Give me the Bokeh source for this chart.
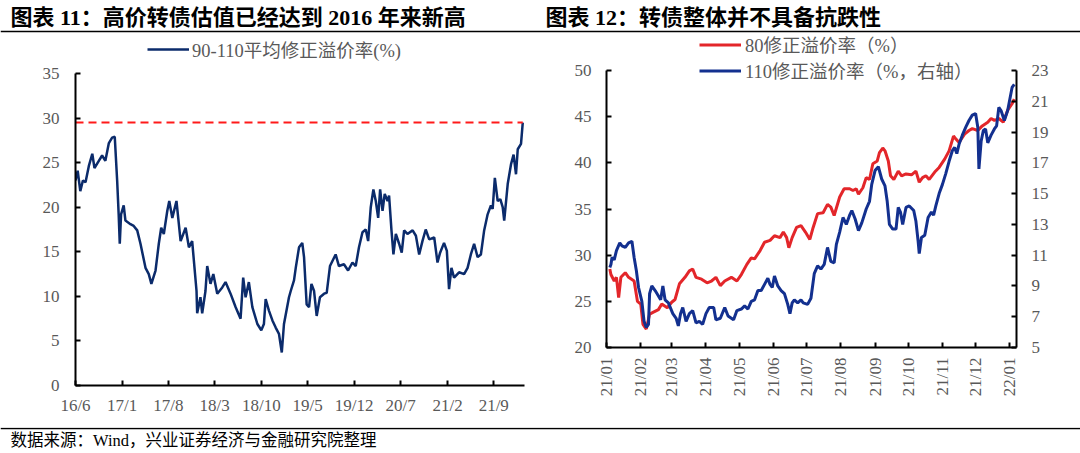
import math
import pandas as pd
from bokeh.plotting import figure
from bokeh.layouts import column, row
from bokeh.models import Range1d, LinearAxis, FixedTicker, Legend, LegendItem, Label, Span
from bokeh.embed import file_html
from bokeh.resources import INLINE

SERIF = "Liberation Serif, Noto Sans CJK SC"
TICK_COLOR = "#595959"
NAVY = "#0b2b6b"
BLUE = "#13308f"
RED = "#e3262a"
DASH_RED = "#ff1a1a"

# ---- 图表 11：90-110 平均修正溢价率 ----
hp_dates = [
    "2016-06-01", "2016-06-11", "2016-06-23", "2016-07-05", "2016-07-17", "2016-08-01",
    "2016-08-17", "2016-08-27", "2016-09-16", "2016-10-01", "2016-10-16", "2016-11-01",
    "2016-11-16", "2016-11-28", "2016-12-09", "2016-12-16", "2016-12-21", "2016-12-27",
    "2017-01-08", "2017-01-16", "2017-02-08", "2017-02-23", "2017-03-11", "2017-03-26",
    "2017-04-18", "2017-05-03", "2017-05-15", "2017-06-03", "2017-06-18", "2017-06-29",
    "2017-07-11", "2017-07-27", "2017-08-05", "2017-08-19", "2017-09-07", "2017-09-26",
    "2017-10-19", "2017-11-03", "2017-11-18", "2017-12-08", "2017-12-11", "2017-12-26",
    "2018-01-03", "2018-01-18", "2018-01-26", "2018-02-10", "2018-02-23", "2018-03-13",
    "2018-04-05", "2018-04-20", "2018-05-13", "2018-06-05", "2018-06-28", "2018-07-10",
    "2018-07-21", "2018-08-05", "2018-08-21", "2018-09-13", "2018-10-01", "2018-10-13",
    "2018-10-21", "2018-11-05", "2018-11-21", "2018-12-06", "2018-12-21", "2019-01-03",
    "2019-01-13", "2019-02-05", "2019-02-13", "2019-02-28", "2019-03-08", "2019-03-23",
    "2019-04-07", "2019-04-15", "2019-04-27", "2019-05-08", "2019-05-19", "2019-05-31",
    "2019-06-12", "2019-06-27", "2019-07-16", "2019-07-28", "2019-08-12", "2019-09-07",
    "2019-09-22", "2019-10-15", "2019-11-03", "2019-11-23", "2019-12-08", "2019-12-23",
    "2020-01-08", "2020-01-23", "2020-02-03", "2020-02-15", "2020-02-27", "2020-03-09",
    "2020-03-20", "2020-03-29", "2020-04-09", "2020-04-19", "2020-05-02", "2020-05-09",
    "2020-05-20", "2020-05-29", "2020-06-09", "2020-06-24", "2020-07-06", "2020-07-17",
    "2020-08-01", "2020-08-25", "2020-09-09", "2020-09-24", "2020-10-09", "2020-10-24",
    "2020-11-09", "2020-12-02", "2020-12-17", "2020-12-29", "2021-01-16", "2021-01-29",
    "2021-02-08", "2021-02-19", "2021-03-03", "2021-03-26", "2021-04-18", "2021-05-04",
    "2021-05-19", "2021-06-03", "2021-06-19", "2021-07-04", "2021-07-19", "2021-08-04",
    "2021-08-19", "2021-08-27", "2021-09-06", "2021-09-19", "2021-10-01", "2021-10-12",
    "2021-10-19", "2021-11-04", "2021-11-19", "2021-12-01", "2021-12-12", "2021-12-20",
    "2022-01-04", "2022-01-12",
]
hp_premium = [
    23.0, 24.1, 21.8, 23.0, 22.8, 24.6,
    26.0, 24.4, 25.2, 25.8, 25.2, 27.2,
    27.8, 27.9, 23.0, 19.2, 15.9, 19.2,
    20.2, 18.5, 18.1, 17.9, 17.4, 15.9,
    13.2, 12.5, 11.4, 12.9, 15.9, 17.7,
    17.0, 19.6, 20.7, 18.8, 20.7, 16.2,
    17.7, 15.5, 16.2, 10.6, 8.1, 9.9,
    8.1, 10.6, 13.4, 11.4, 12.5, 10.3,
    11.0, 11.6, 10.3, 8.8, 7.5, 12.1,
    9.9, 11.6, 8.8, 6.9, 6.2, 6.9,
    9.7, 8.4, 7.3, 6.5, 5.8, 3.7,
    6.9, 9.9, 10.6, 11.8, 13.2, 15.5,
    16.0, 14.4, 9.1, 8.8, 11.4, 10.6,
    7.8, 9.9, 10.3, 10.4, 13.4, 14.7,
    13.4, 13.6, 12.9, 13.8, 13.4, 15.5,
    17.2, 17.5, 16.2, 20.0, 22.0, 20.7,
    18.8, 22.0, 19.6, 21.5, 20.7, 21.3,
    17.4, 14.7, 17.0, 15.9, 14.9, 17.4,
    17.0, 17.4, 16.8, 14.7, 16.2, 17.5,
    16.4, 16.6, 13.8, 14.9, 16.0, 15.1,
    10.8, 13.2, 12.1, 12.7, 12.5, 13.2,
    14.7, 15.9, 14.4, 14.7, 17.4, 19.2,
    20.2, 19.8, 23.3, 20.7, 20.9, 20.0,
    18.5, 22.6, 24.8, 25.9, 23.7, 26.5,
    27.1, 29.5,
]
hp_high = 29.5
hp_axis = (0, 35)
hp_ticks = ["2016-06-01", "2017-01-01", "2017-08-01", "2018-03-01", "2018-10-01",
            "2019-05-01", "2019-12-01", "2020-07-01", "2021-02-01", "2021-09-01"]
hp_tick_labels = ["16/6", "17/1", "17/8", "18/3", "18/10", "19/5", "19/12", "20/7", "21/2", "21/9"]

# ---- 图表 12：80 与 110 修正溢价率 ----
r80_dates = [
    "2021-01-04", "2021-01-05", "2021-01-08", "2021-01-10", "2021-01-12", "2021-01-14",
    "2021-01-18", "2021-01-21", "2021-01-26", "2021-01-29", "2021-02-01", "2021-02-03",
    "2021-02-06", "2021-02-09", "2021-02-12", "2021-02-17", "2021-02-20", "2021-02-25",
    "2021-03-01", "2021-03-04", "2021-03-08", "2021-03-13", "2021-03-17", "2021-03-20",
    "2021-03-23", "2021-03-28", "2021-04-02", "2021-04-06", "2021-04-10", "2021-04-14",
    "2021-04-18", "2021-04-24", "2021-04-29", "2021-05-03", "2021-05-08", "2021-05-12",
    "2021-05-15", "2021-05-20", "2021-05-24", "2021-05-29", "2021-06-02", "2021-06-07",
    "2021-06-10", "2021-06-13", "2021-06-15", "2021-06-18", "2021-06-22", "2021-06-26",
    "2021-06-30", "2021-07-04", "2021-07-07", "2021-07-11", "2021-07-16", "2021-07-20",
    "2021-07-23", "2021-07-26", "2021-07-31", "2021-08-04", "2021-08-09", "2021-08-12",
    "2021-08-15", "2021-08-17", "2021-08-21", "2021-08-24", "2021-08-27", "2021-08-30",
    "2021-09-03", "2021-09-05", "2021-09-08", "2021-09-10", "2021-09-13", "2021-09-15",
    "2021-09-18", "2021-09-22", "2021-09-25", "2021-09-29", "2021-10-04", "2021-10-08",
    "2021-10-11", "2021-10-14", "2021-10-17", "2021-10-20", "2021-10-25", "2021-10-29",
    "2021-11-03", "2021-11-07", "2021-11-11", "2021-11-13", "2021-11-16", "2021-11-21",
    "2021-11-25", "2021-11-28", "2021-12-03", "2021-12-07", "2021-12-12", "2021-12-15",
    "2021-12-18", "2021-12-22", "2021-12-26", "2021-12-30", "2022-01-03", "2022-01-05",
]
r80_premium = [
    28.5, 27.9, 27.2, 27.6, 25.4, 27.6,
    28.1, 27.6, 27.2, 25.0, 24.7, 22.5,
    22.0, 23.6, 23.8, 24.1, 24.7, 24.3,
    24.9, 25.2, 26.9, 27.6, 28.3, 28.5,
    27.6, 27.4, 27.0, 27.2, 27.6, 26.7,
    27.2, 27.6, 27.2, 27.9, 29.0, 29.7,
    29.6, 30.5, 31.4, 31.6, 32.1, 31.9,
    32.5, 31.9, 30.8, 31.9, 33.0, 33.2,
    32.5, 31.7, 33.0, 34.5, 34.6, 35.5,
    35.2, 34.3, 36.3, 37.2, 37.2, 37.0,
    37.2, 36.6, 37.3, 38.4, 38.2, 39.9,
    40.2, 41.1, 41.6, 41.3, 40.2, 38.6,
    38.2, 39.1, 38.6, 38.8, 38.7, 39.1,
    37.9, 38.4, 38.6, 38.2, 39.0, 39.5,
    40.4, 41.3, 42.9, 42.6, 42.2, 43.1,
    43.5, 43.7, 43.5, 44.0, 44.4, 44.8,
    44.6, 44.8, 44.4, 45.7, 46.4, 46.9,
]
r110_dates = [
    "2021-01-04", "2021-01-05", "2021-01-06", "2021-01-08", "2021-01-10", "2021-01-13",
    "2021-01-15", "2021-01-18", "2021-01-21", "2021-01-24", "2021-01-26", "2021-01-28",
    "2021-01-30", "2021-02-02", "2021-02-04", "2021-02-06", "2021-02-08", "2021-02-09",
    "2021-02-11", "2021-02-14", "2021-02-17", "2021-02-19", "2021-02-21", "2021-02-23",
    "2021-02-26", "2021-03-02", "2021-03-05", "2021-03-07", "2021-03-09", "2021-03-11",
    "2021-03-14", "2021-03-17", "2021-03-20", "2021-03-23", "2021-03-26", "2021-03-29",
    "2021-04-01", "2021-04-04", "2021-04-08", "2021-04-10", "2021-04-14", "2021-04-18",
    "2021-04-21", "2021-04-26", "2021-04-29", "2021-05-03", "2021-05-06", "2021-05-09",
    "2021-05-12", "2021-05-15", "2021-05-18", "2021-05-21", "2021-05-24", "2021-05-27",
    "2021-05-29", "2021-05-31", "2021-06-02", "2021-06-05", "2021-06-08", "2021-06-11",
    "2021-06-14", "2021-06-16", "2021-06-18", "2021-06-20", "2021-06-23", "2021-06-26",
    "2021-06-28", "2021-07-02", "2021-07-05", "2021-07-08", "2021-07-11", "2021-07-14",
    "2021-07-17", "2021-07-20", "2021-07-23", "2021-07-26", "2021-07-28", "2021-07-31",
    "2021-08-03", "2021-08-06", "2021-08-09", "2021-08-11", "2021-08-14", "2021-08-17",
    "2021-08-20", "2021-08-24", "2021-08-27", "2021-08-29", "2021-09-01", "2021-09-04",
    "2021-09-07", "2021-09-10", "2021-09-12", "2021-09-14", "2021-09-17", "2021-09-20",
    "2021-09-22", "2021-09-24", "2021-09-26", "2021-09-29", "2021-10-02", "2021-10-06",
    "2021-10-08", "2021-10-10", "2021-10-11", "2021-10-13", "2021-10-16", "2021-10-19",
    "2021-10-22", "2021-10-24", "2021-10-26", "2021-10-29", "2021-11-01", "2021-11-04",
    "2021-11-07", "2021-11-10", "2021-11-12", "2021-11-14", "2021-11-16", "2021-11-19",
    "2021-11-22", "2021-11-25", "2021-11-28", "2021-12-01", "2021-12-03", "2021-12-04",
    "2021-12-06", "2021-12-08", "2021-12-10", "2021-12-12", "2021-12-15", "2021-12-18",
    "2021-12-20", "2021-12-22", "2021-12-24", "2021-12-27", "2021-12-30", "2022-01-03",
    "2022-01-05",
]
r110_premium = [
    10.2, 10.4, 10.85, 10.7, 11.3, 11.8,
    11.6, 11.5, 11.8, 11.9, 10.85, 10.0,
    8.9, 8.0, 6.7, 6.3, 6.5, 8.5,
    9.0, 8.7, 8.35, 8.1, 9.0, 8.1,
    7.9, 7.2, 6.9, 6.4, 7.2, 7.6,
    6.7, 7.2, 7.4, 6.6, 6.7, 6.5,
    7.2, 7.6, 7.6, 6.8, 6.9, 7.6,
    7.05, 6.8, 7.4, 7.5, 7.7, 7.5,
    8.0, 8.1, 8.7, 8.7, 9.1, 9.5,
    9.1, 8.9, 9.65, 9.0, 8.7, 8.5,
    7.8, 7.2, 7.9, 8.1, 7.9, 8.1,
    7.9, 7.8, 8.2, 9.8, 10.3, 10.1,
    10.4, 11.5, 10.6, 10.5, 11.7, 12.5,
    13.45, 13.0, 13.6, 13.9, 13.35, 12.6,
    13.1, 14.0, 14.5, 15.6, 16.5, 16.75,
    15.95, 15.5, 14.5, 13.0, 12.7, 12.7,
    14.1, 13.8, 13.0, 14.1, 14.2, 13.9,
    13.2, 11.9, 11.1, 12.15, 12.3, 13.45,
    13.8, 13.6, 14.2, 15.0, 15.6, 16.3,
    17.1, 17.8, 18.0, 17.6, 18.2, 18.8,
    19.3, 19.75, 20.1, 20.2, 19.3, 16.6,
    18.4, 19.1, 19.2, 18.3, 18.8, 19.2,
    19.4, 20.6, 20.4, 19.75, 20.4, 21.9,
    22.1,
]
left_axis = (20, 50)
right_axis = (5, 23)
month_ticks = ["2021-01-01", "2021-02-01", "2021-03-01", "2021-04-01", "2021-05-01",
               "2021-06-01", "2021-07-01", "2021-08-01", "2021-09-01", "2021-10-01",
               "2021-11-01", "2021-12-01", "2022-01-01"]
month_labels = ["21/01", "21/02", "21/03", "21/04", "21/05", "21/06", "21/07",
                "21/08", "21/09", "21/10", "21/11", "21/12", "22/01"]

title_left = "图表 11：高价转债估值已经达到 2016 年来新高"
title_right = "图表 12：转债整体并不具备抗跌性"
source_note = "数据来源：Wind，兴业证券经济与金融研究院整理"


def ms(d):
    return int(pd.Timestamp(d).value // 10**6)


def padded(bounds, axis_px, frame_px):
    # extend a range upward so the axis (drawn only over `bounds`) fills axis_px of a frame_px frame
    lo, hi = bounds
    return Range1d(lo, lo + (hi - lo) * frame_px / axis_px)


def free_frame(f):
    # keep each plot's own borders instead of lining frames up across the row
    if "frame_align" in f.properties():
        f.frame_align = False
    return f


def style_axis(ax, size="17px"):
    ax.axis_line_width = 2
    ax.axis_line_color = "black"
    ax.major_tick_line_width = 2
    ax.major_tick_line_color = "black"
    ax.major_tick_in = 5
    ax.major_tick_out = 0
    ax.minor_tick_line_color = None
    ax.major_label_text_font = SERIF
    ax.major_label_text_font_size = size
    ax.major_label_text_color = TICK_COLOR


def banner(height):
    f = figure(width=1080, height=height, x_range=Range1d(0, 1080), y_range=Range1d(0, height),
               x_axis_type=None, y_axis_type=None, output_backend="svg", toolbar_location=None,
               min_border=0, outline_line_color=None)
    f.grid.visible = False
    return free_frame(f)


# header strip with both titles and the rule under them
head = banner(34)
for x, txt in [(10, title_left), (545, title_right)]:
    head.add_layout(Label(x=x, y=17, text=txt, text_font=SERIF, text_font_size="22px",
                          text_font_style="bold", text_color="black",
                          text_baseline="middle", text_align="left"))
head.add_layout(Span(location=3, dimension="width", line_color="black", line_width=1.5))

# footer strip with the source note
foot = banner(26)
foot.add_layout(Span(location=25, dimension="width", line_color="black", line_width=1.5))
foot.add_layout(Label(x=10, y=13, text=source_note, text_font=SERIF, text_font_size="16.5px",
                      text_color="black", text_baseline="middle", text_align="left"))

# left chart: the frame runs up to hold the legend, the axis stops at 35
pl = figure(width=540, height=393, x_axis_type="datetime",
            x_range=Range1d(ms("2016-06-01"), ms("2022-01-20")),
            y_range=padded(hp_axis, 312, 349),
            output_backend="svg", toolbar_location=None, outline_line_color=None,
            min_border_left=75, min_border_right=16, min_border_top=2, min_border_bottom=42)
free_frame(pl)
pl.grid.visible = False
hp_x = pd.to_datetime(hp_dates)
hp_line = pl.line(hp_x, hp_premium, line_color=NAVY, line_width=2.5)
pl.line(pd.to_datetime([hp_dates[0], hp_dates[-1]]), [hp_high, hp_high],
        line_color=DASH_RED, line_width=2, line_dash="8 5")
pl.xaxis.ticker = FixedTicker(ticks=[ms(d) for d in hp_ticks])
pl.xaxis.major_label_overrides = {ms(d): lab for d, lab in zip(hp_ticks, hp_tick_labels)}
pl.yaxis.ticker = FixedTicker(ticks=list(range(0, 36, 5)))
pl.yaxis.bounds = hp_axis
style_axis(pl.xaxis[0])
style_axis(pl.yaxis[0])
pl.xaxis.major_label_standoff = 10
pl.yaxis.major_label_standoff = 16
# location is the legend's bottom-left corner, in pixels from the frame's bottom-left
leg_l = Legend(items=[LegendItem(label="90-110平均修正溢价率(%)", renderers=[hp_line])],
               location=(72, 323), border_line_color=None, background_fill_alpha=0,
               padding=0, margin=0, glyph_width=42, glyph_height=20, label_height=20,
               label_standoff=3, label_text_font=SERIF, label_text_font_size="18.5px",
               label_text_color=TICK_COLOR)
pl.add_layout(leg_l)

# right chart, 110 series on the right-hand axis
pr = figure(width=540, height=393, x_axis_type="datetime",
            x_range=Range1d(ms("2021-01-01"), ms("2022-01-07")),
            y_range=padded(left_axis, 277, 311),
            output_backend="svg", toolbar_location=None, outline_line_color=None,
            min_border_left=66, min_border_right=64, min_border_top=2, min_border_bottom=80)
free_frame(pr)
pr.grid.visible = False
pr.extra_y_ranges = {"r": padded(right_axis, 277, 311)}
ax_r = LinearAxis(y_range_name="r", ticker=FixedTicker(ticks=list(range(5, 24, 2))),
                  bounds=right_axis)
pr.add_layout(ax_r, "right")
red = pr.line(pd.to_datetime(r80_dates), r80_premium, line_color=RED, line_width=3)
blue = pr.line(pd.to_datetime(r110_dates), r110_premium, line_color=BLUE, line_width=3,
               y_range_name="r")
pr.xaxis.ticker = FixedTicker(ticks=[ms(d) for d in month_ticks])
pr.xaxis.major_label_overrides = {ms(d): lab for d, lab in zip(month_ticks, month_labels)}
pr.xaxis.major_label_orientation = math.pi / 2
pr.yaxis[0].ticker = FixedTicker(ticks=list(range(20, 51, 5)))
pr.yaxis[0].bounds = left_axis
style_axis(pr.xaxis[0])
style_axis(pr.yaxis[0])
style_axis(ax_r)
pr.xaxis.major_label_standoff = 10
pr.yaxis[0].major_label_standoff = 15
ax_r.major_label_standoff = 15
leg_r = Legend(items=[LegendItem(label="80修正溢价率（%）", renderers=[red]),
                      LegendItem(label="110修正溢价率（%，右轴）", renderers=[blue])],
               location=(93, 264), border_line_color=None, background_fill_alpha=0,
               padding=0, margin=0, spacing=0, glyph_width=42, glyph_height=19,
               label_height=19, label_standoff=4, label_text_font=SERIF,
               label_text_font_size="18.5px", label_text_color=TICK_COLOR)
pr.add_layout(leg_r)

page = column(head, row(pl, pr), foot)
open("out.html", "w").write(file_html(page, INLINE))
